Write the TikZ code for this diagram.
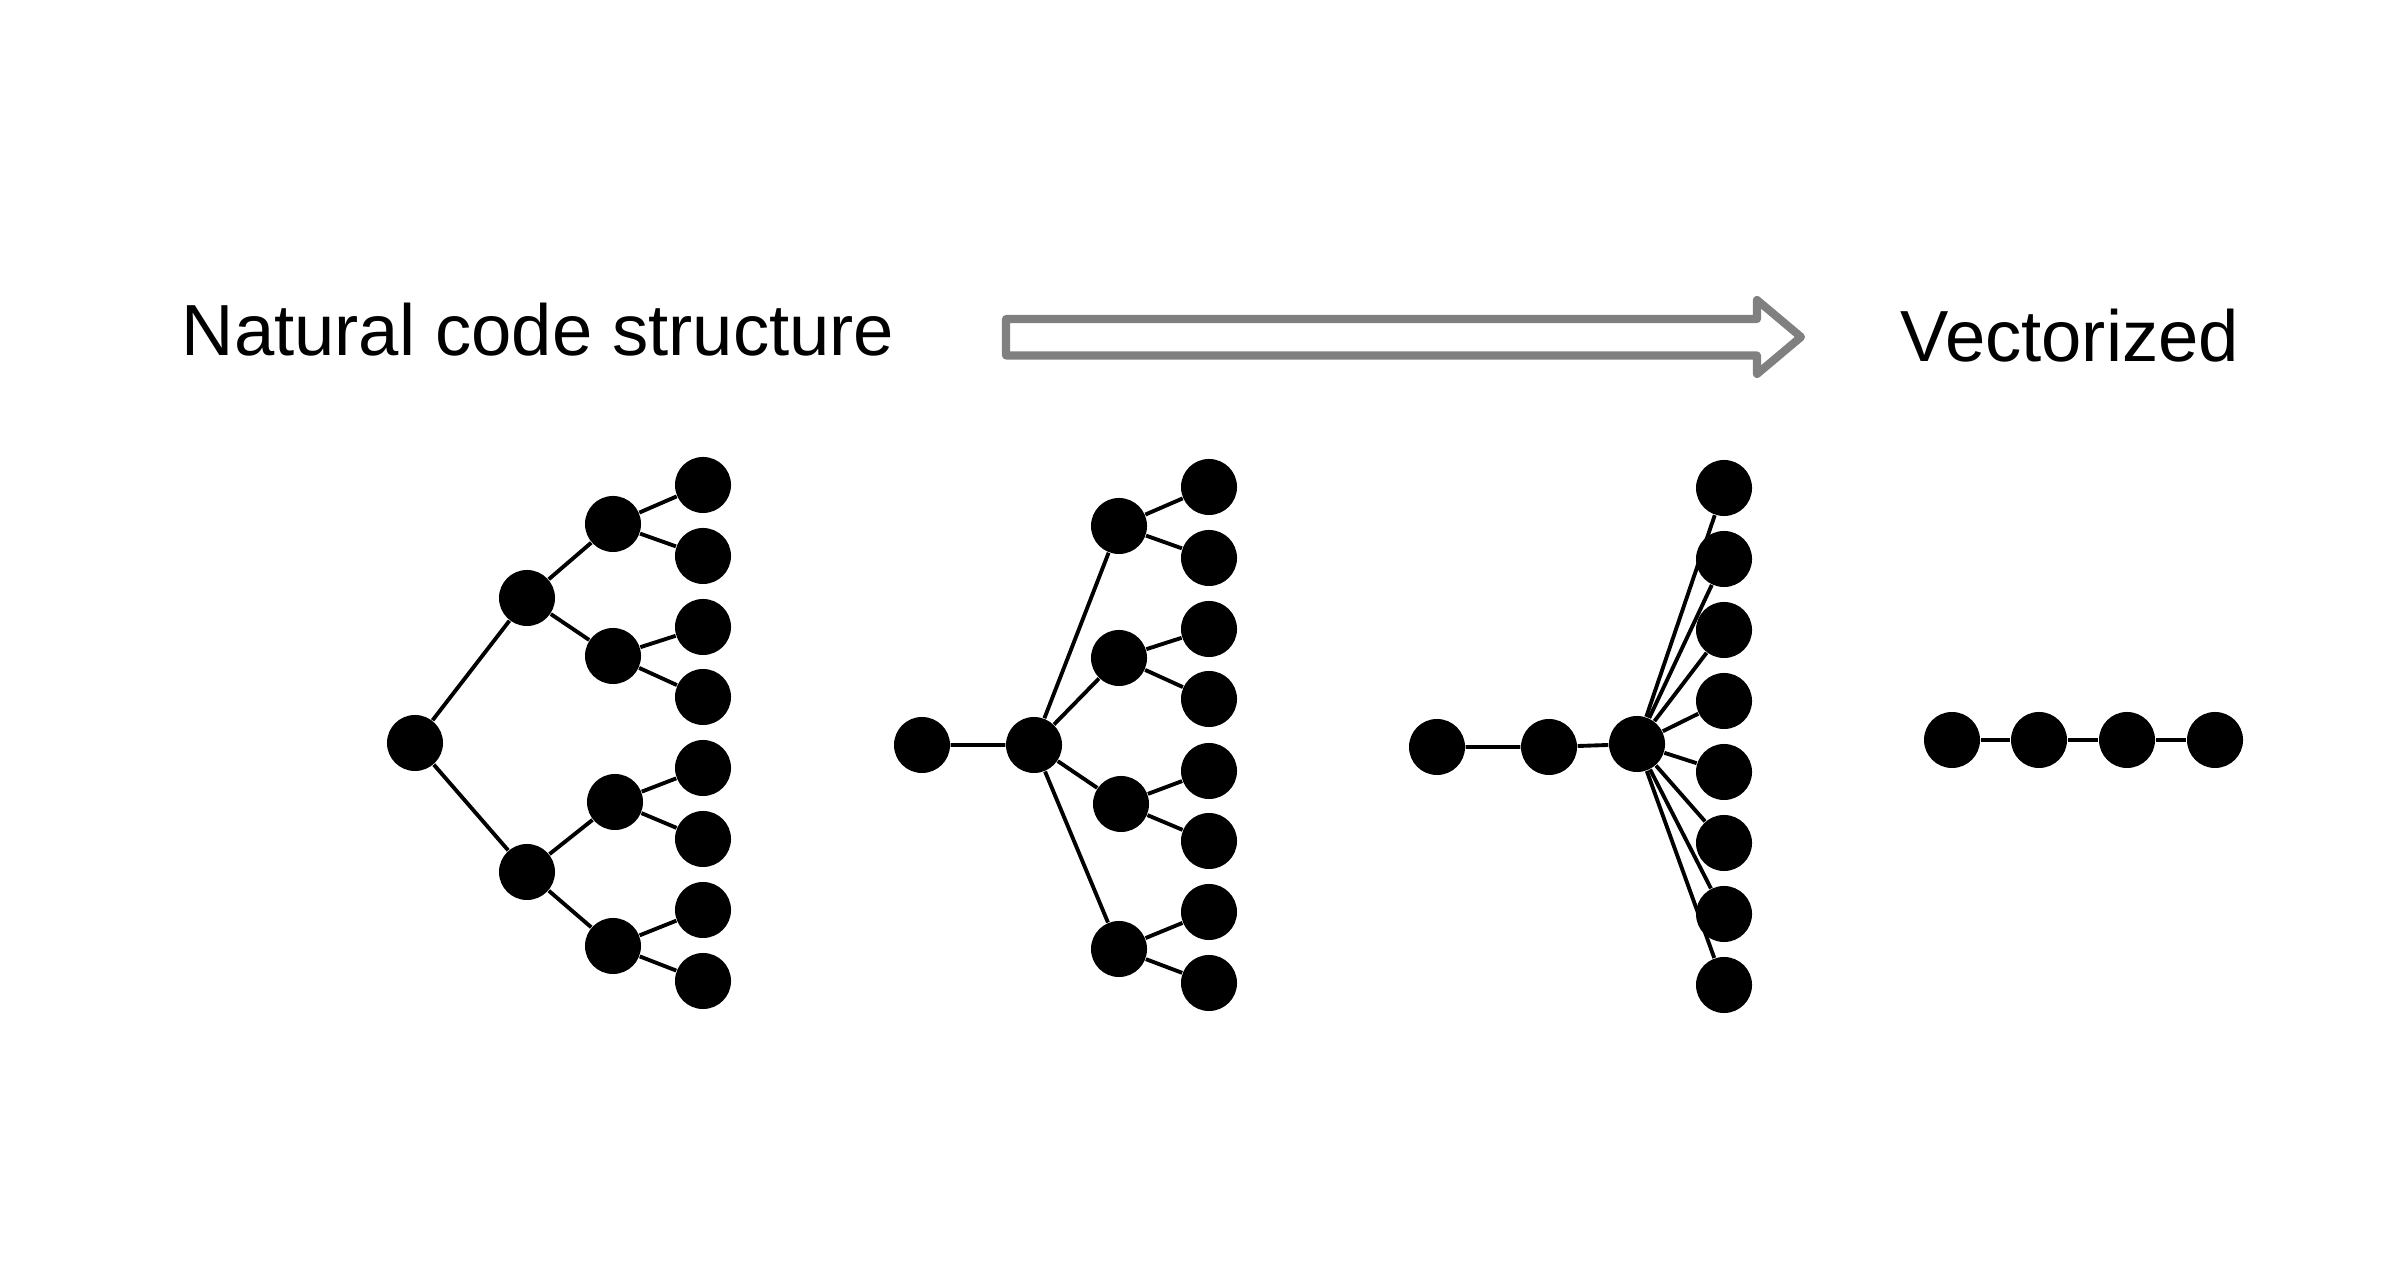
\documentclass[tikz,border=0pt]{standalone}
\usepackage{fontspec}
\setmainfont{Liberation Sans}
\begin{document}
\begin{tikzpicture}[x=0.01cm,y=-0.01cm,
  dot/.style={circle,fill=black,draw=none,minimum size=0.56cm,inner sep=0pt},
  edge/.style={line width=1.1pt,black},
  label/.style={inner sep=0pt,anchor=base west,font=\fontsize{20.6}{24}\selectfont},
  bigarrow/.style={draw=black!50,line width=2.3pt,line join=round,fill=white}]
\useasboundingbox (0,0) rectangle (2400,1280);

% titles
\node[label] (t1) at (181,356) {Natural code structure};
\node[label] (t2) at (1900,362) {Vectorized};

% hollow arrow
\draw[bigarrow] (1006,319) -- (1757,319) -- (1757,300) -- (1801,337)
  -- (1757,374) -- (1757,355.5) -- (1006,355.5) -- cycle;

% ---------- tree 1 ----------
\node[dot] (r) at (415,743) {};
\node[dot] (a) at (527,598) {};
\node[dot] (b) at (527,872) {};
\node[dot] (aa) at (613,524) {};
\node[dot] (ab) at (613,656) {};
\node[dot] (ba) at (615,802) {};
\node[dot] (bb) at (613,946) {};
\foreach \i/\y in {1/485,2/556,3/627,4/697,5/768,6/839,7/910,8/981}
  \node[dot] (l\i) at (703,\y) {};
\draw[edge] (r) -- (a) (r) -- (b)
  (a) -- (aa) (a) -- (ab) (b) -- (ba) (b) -- (bb)
  (aa) -- (l1) (aa) -- (l2) (ab) -- (l3) (ab) -- (l4)
  (ba) -- (l5) (ba) -- (l6) (bb) -- (l7) (bb) -- (l8);

% ---------- tree 2 ----------
\node[dot] (p) at (922,745) {};
\node[dot] (c) at (1034,745) {};
\node[dot] (ca) at (1119,526) {};
\node[dot] (cb) at (1119,658) {};
\node[dot] (cc) at (1121,804) {};
\node[dot] (cd) at (1119,949) {};
\foreach \i/\y in {1/487,2/558,3/629,4/699,5/771,6/841,7/912,8/983}
  \node[dot] (m\i) at (1209,\y) {};
\draw[edge] (p) -- (c)
  (c) -- (ca) (c) -- (cb) (c) -- (cc) (c) -- (cd)
  (ca) -- (m1) (ca) -- (m2) (cb) -- (m3) (cb) -- (m4)
  (cc) -- (m5) (cc) -- (m6) (cd) -- (m7) (cd) -- (m8);

% ---------- tree 3 ----------
\node[dot] (q1) at (1437,747) {};
\node[dot] (q2) at (1549,747) {};
\node[dot] (q3) at (1637,744) {};
\foreach \i/\y in {1/488,2/559,3/630,4/701,5/772,6/843,7/914,8/985}
  \node[dot] (n\i) at (1724,\y) {};
\draw[edge] (q1) -- (q2) (q2) -- (q3);
\foreach \i in {1,...,8}
  \draw[edge] (q3) -- (n\i);

% ---------- chain ----------
\node[dot] (v1) at (1952,740) {};
\node[dot] (v2) at (2039,740) {};
\node[dot] (v3) at (2127,740) {};
\node[dot] (v4) at (2215,740) {};
\draw[edge] (v1) -- (v2) (v2) -- (v3) (v3) -- (v4);
\end{tikzpicture}
\end{document}
